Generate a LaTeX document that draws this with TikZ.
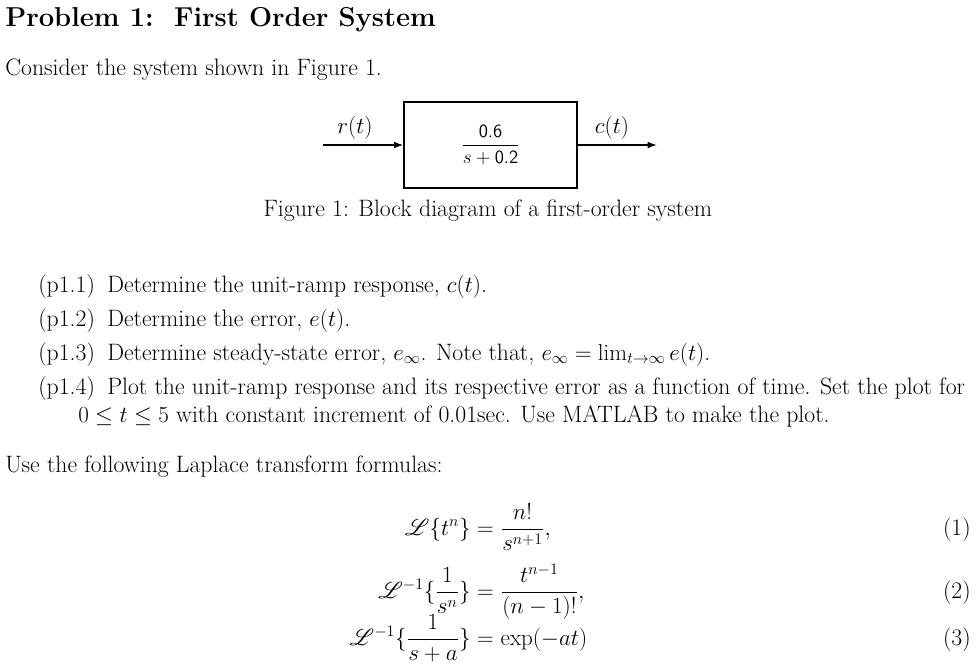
\documentclass[tikz,border=0pt]{standalone}
\usepackage{amsmath,amssymb,mathrsfs}
\usetikzlibrary{arrows.meta}
\begin{document}
\begin{tikzpicture}[x=0.75pt,y=-0.75pt,
  txt/.style={anchor=base west,inner sep=0pt,font=\fontsize{17.8}{21}\selectfont},
  eq/.style={anchor=base west,inner sep=0pt,font=\fontsize{16.5}{20}\selectfont},
  arr/.style={-{Latex[length=7pt,width=5pt]},line width=1pt}]
\useasboundingbox (0,0) rectangle (976,665);
\node[anchor=base west,inner sep=0pt,font=\fontsize{20.5}{24}\selectfont\bfseries] (title) at (5,26) {Problem 1:\ \ First Order System};
\node[txt] (consider) at (5,75) {Consider the system shown in Figure 1.};
\node[draw,line width=1pt,minimum width=173*0.75pt,minimum height=86*0.75pt,inner sep=0pt] (blk) at (490.5,145)
 {\fontsize{14}{17}\selectfont$\dfrac{\textsf{0.6}}{s+\textsf{0.2}}$};
\coordinate (in) at (323,145);
\coordinate (out) at (657,145);
\draw[arr] (in) -- (blk.west);
\draw[arr] (blk.east) -- (out);
\node[eq,anchor=base] (r) at (355,133) {$r(t)$};
\node[eq,anchor=base] (c) at (612,133) {$c(t)$};
\node[txt,anchor=base] (cap) at (488,216) {Figure 1: Block diagram of a first-order system};
\node[txt] (l1) at (38,292) {(p1.1)};
\node[txt] (t1) at (107,292) {Determine the unit-ramp response, $c(t)$.};
\node[txt] (l2) at (38,326) {(p1.2)};
\node[txt] (t2) at (107,326) {Determine the error, $e(t)$.};
\node[txt] (l3) at (38,360) {(p1.3)};
\node[txt] (t3) at (107,360) {Determine steady-state error, $e_\infty$. Note that, $e_\infty=\lim_{t\to\infty}e(t)$.};
\node[txt] (l4) at (38,394) {(p1.4)};
\node[txt] (t4) at (107,394) {Plot the unit-ramp response and its respective error as a function of time. Set the plot for};
\node[txt] (t4b) at (78,422) {$0\le t\le 5$ with constant increment of 0.01sec. Use MATLAB to make the plot.};
\node[txt] (use) at (5,472) {Use the following Laplace transform formulas:};
\node[eq,anchor=base east] (e1) at (494,535) {$\mathscr{L}\{t^n\}=$};
\node[eq] (e1r) at (494,535) {$\;\dfrac{n!}{s^{n+1}},$};
\node[eq,anchor=base east] (e2) at (494,598) {$\mathscr{L}^{-1}\{\dfrac{1}{s^n}\}=$};
\node[eq] (e2r) at (494,598) {$\;\dfrac{t^{n-1}}{(n-1)!},$};
\node[eq,anchor=base east] (e3) at (494,645) {$\mathscr{L}^{-1}\{\dfrac{1}{s+a}\}=$};
\node[eq] (e3r) at (494,645) {$\;\exp(-at)$};
\node[txt,anchor=base east] (n1) at (971,535) {(1)};
\node[txt,anchor=base east] (n2) at (971,598) {(2)};
\node[txt,anchor=base east] (n3) at (971,645) {(3)};
\end{tikzpicture}
\end{document}
